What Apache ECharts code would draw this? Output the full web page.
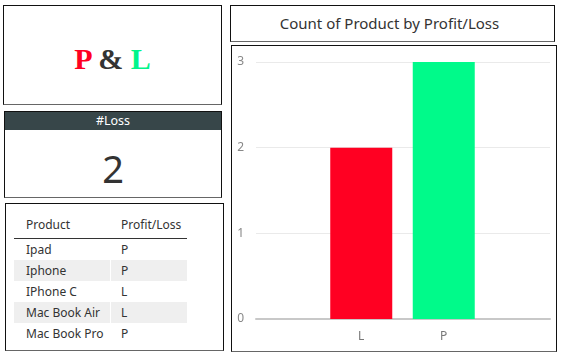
<!DOCTYPE html>
<html>
<head>
<meta charset="utf-8">
<script src="https://cdn.jsdelivr.net/npm/echarts@6/dist/echarts.min.js"></script>
<style>
  html, body { margin:0; padding:0; background:#fff; width:561px; height:355px; overflow:hidden; font-family:"Noto Sans", "Open Sans", sans-serif; }
  .box { position:absolute; box-sizing:border-box; border:1.5px solid #111; border-bottom-color:#666; background:#fff; }
  #title { left:3px; top:5px; width:219px; height:100px; }
  #pl { position:absolute; left:0; right:0; top:38px; text-align:center; font-family:"Liberation Serif", "DejaVu Serif", serif; font-weight:bold; font-size:30px; line-height:30px; }
  #loss { left:4px; top:111px; width:218px; height:87px; }
  #lossHead { position:absolute; left:0; right:0; top:0; height:18px; background:#374649; color:#fff; text-align:center; font-size:12.5px; line-height:18px; }
  #lossVal { position:absolute; left:0; right:0; top:36px; text-align:center; font-size:38px; line-height:40px; color:#333; }
  #tbl { left:5px; top:203px; width:219px; height:148px; }
  table { position:absolute; left:8px; top:6px; border-collapse:collapse; font-size:12px; color:#333; }
  td, th { font-weight:normal; text-align:left; padding:0 0 0 12px; height:21px; }
  th { height:28px; border-bottom:1.5px solid #333; }
  tr.alt td { background:#EFEFEF; }
  td.c1, th.c1 { width:84px; border-right:1px solid #fff; }
  td.c2, th.c2 { width:66px; padding-left:10px; }
  #ctitle { left:230px; top:5px; width:325px; height:37px; text-align:center; font-size:15px; line-height:34px; color:#333; padding-right:6px; }
  #cbox { left:231px; top:45px; width:326px; height:307px; }
  #chart { position:absolute; left:0; top:0; width:323px; height:304px; }
</style>
</head>
<body>
<div class="box" id="title"><div id="pl"><span style="color:#FF0022">P</span> <span style="color:#333">&amp;</span> <span style="color:#00F58A">L</span></div></div>
<div class="box" id="loss"><div id="lossHead">#Loss</div><div id="lossVal"></div></div>
<div class="box" id="tbl"><table id="t"></table></div>
<div class="box" id="ctitle">Count of Product by Profit/Loss</div>
<div class="box" id="cbox"><div id="chart"></div></div>
<script>
// ---- data ----
var products = ['Ipad', 'Iphone', 'IPhone C', 'Mac Book Air', 'Mac Book Pro'];
var profitLoss = ['P', 'P', 'L', 'L', 'P'];
var categories = ['L', 'P'];
var counts = [2, 3];
var yTicks = [0, 1, 2, 3];
var barColors = ['#FF0022', '#00FA8A'];

// ---- table ----
var t = document.getElementById('t');
var html = '<tr><th class="c1">Product</th><th class="c2">Profit/Loss</th></tr>';
for (var i = 0; i < products.length; i++) {
  html += '<tr' + (i % 2 === 1 ? ' class="alt"' : '') + '><td class="c1">' + products[i] + '</td><td class="c2">' + profitLoss[i] + '</td></tr>';
}
t.innerHTML = html;
document.getElementById('lossVal').textContent = counts[categories.indexOf('L')];

// ---- chart ----
var chart = echarts.init(document.getElementById('chart'), null, {renderer:'canvas'});
var font = '"Noto Sans", "Open Sans", sans-serif';
chart.setOption({
  animation: false,
  grid: [
    {left: 24, right: 5, top: 16, bottom: 31},
    {left: 88, right: 70, top: 16, bottom: 31}
  ],
  xAxis: [
    {type:'value', gridIndex:0, min:0, max:1, axisLabel:{show:false}, axisTick:{show:false}, splitLine:{show:false},
     axisLine:{show:true, lineStyle:{color:'#C8C8C8', width:2}}},
    {type:'category', gridIndex:1, data:categories, axisLine:{show:false}, axisTick:{show:false},
     axisLabel:{color:'#777', fontSize:12, margin:12, fontFamily:font}}
  ],
  yAxis: [
    {type:'value', gridIndex:0, min:yTicks[0], max:yTicks[yTicks.length-1], interval:1,
     axisLine:{show:false}, axisTick:{show:false},
     axisLabel:{color:'#888', fontSize:12, margin:12, fontFamily:font},
     splitLine:{lineStyle:{color:'#EAEAEA', width:1}}},
    {type:'value', gridIndex:1, min:yTicks[0], max:yTicks[yTicks.length-1], interval:1, show:false}
  ],
  series: [{
    type:'bar', xAxisIndex:1, yAxisIndex:1, barWidth:62,
    data: counts.map(function(v, i){ return {value:v, itemStyle:{color:barColors[i]}}; })
  }]
});
</script>
</body>
</html>
